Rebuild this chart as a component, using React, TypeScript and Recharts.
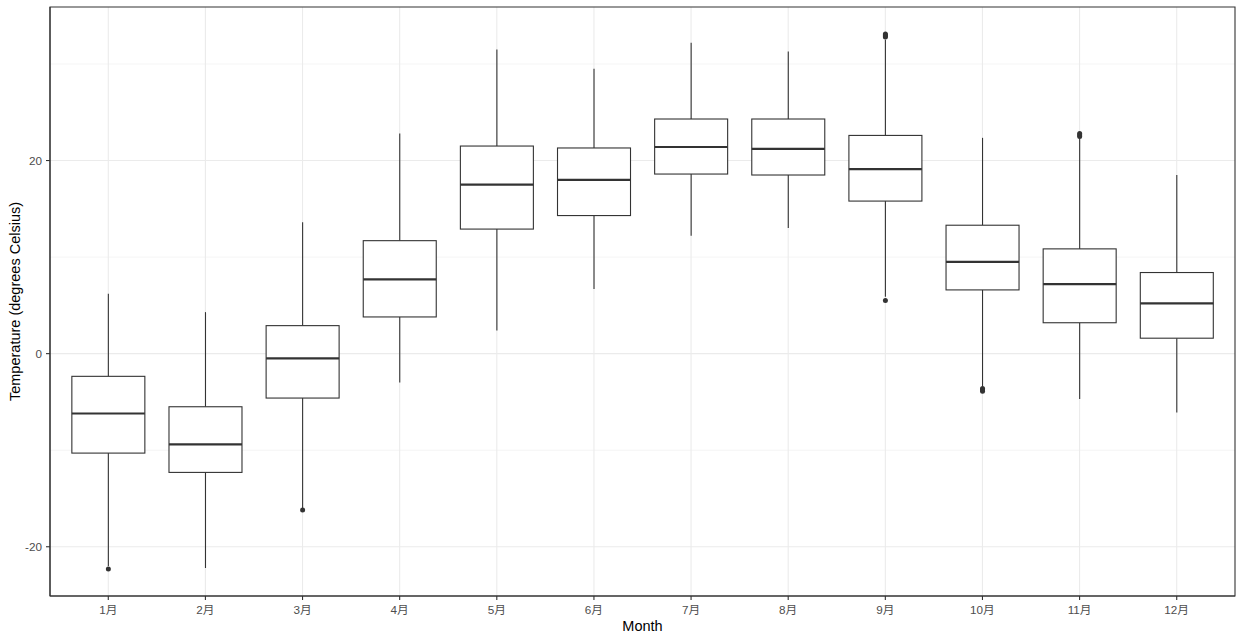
import { ComposedChart, Bar, XAxis, YAxis, CartesianGrid, ReferenceArea } from "recharts";

const months = ["1月", "2月", "3月", "4月", "5月", "6月", "7月", "8月", "9月", "10月", "11月", "12月"];
const whiskerLow = [-22.0, -22.2, -16.0, -3.0, 2.4, 6.7, 12.2, 13.0, 5.9, -3.4, -4.7, -6.1];
const q1 = [-10.3, -12.3, -4.6, 3.8, 12.9, 14.3, 18.6, 18.5, 15.8, 6.6, 3.2, 1.6];
const median = [-6.2, -9.4, -0.5, 7.7, 17.5, 18.0, 21.4, 21.2, 19.1, 9.5, 7.2, 5.2];
const q3 = [-2.35, -5.5, 2.9, 11.7, 21.5, 21.3, 24.3, 24.3, 22.6, 13.3, 10.85, 8.4];
const whiskerHigh = [6.2, 4.3, 13.6, 22.8, 31.5, 29.5, 32.2, 31.3, 32.5, 22.35, 22.3, 18.5];
const outliers: number[][] = [
  [-22.3], [], [-16.2], [], [], [], [], [], [32.8, 32.9, 33.0, 33.1, 5.5], [-3.6, -3.75, -3.9], [22.5, 22.65, 22.8], [],
];

const yMajor = [-20, 0, 20];
const yMinor = [-10, 10, 30];
const yDomain: [number, number] = [-25.1, 35.9];
// discrete positions 1..12, expanded by 0.6 on each side like ggplot
const xTicks = months.map((_, i) => i + 1);
const xDomain: [number, number] = [0.4, months.length + 0.6];

const data = months.map((m, i) => ({
  pos: i + 1,
  month: m,
  low: whiskerLow[i],
  q1: q1[i],
  median: median[i],
  q3: q3[i],
  high: whiskerHigh[i],
  outliers: outliers[i],
}));

const INK = "#333333";
const FONT = "'Liberation Sans', Arial, 'Noto Sans CJK SC', sans-serif";

function BoxShape(props: any) {
  const { x, y, width, height, payload } = props;
  const top = Math.min(y, y + height);
  const h = Math.abs(height);
  const per = h / (payload.high - payload.low);
  const py = (v: number) => top + (payload.high - v) * per;
  const cx = x + width / 2;
  return (
    <g>
      <line x1={cx} x2={cx} y1={py(payload.high)} y2={py(payload.q3)} stroke={INK} strokeWidth={1.1} />
      <line x1={cx} x2={cx} y1={py(payload.q1)} y2={py(payload.low)} stroke={INK} strokeWidth={1.1} />
      <rect
        x={x}
        y={py(payload.q3)}
        width={width}
        height={py(payload.q1) - py(payload.q3)}
        fill="#ffffff"
        stroke={INK}
        strokeWidth={1.1}
      />
      <line x1={x} x2={x + width} y1={py(payload.median)} y2={py(payload.median)} stroke={INK} strokeWidth={2.2} />
      {payload.outliers.map((v: number, k: number) => (
        <circle key={k} cx={cx} cy={py(v)} r={2.5} fill={INK} />
      ))}
    </g>
  );
}

export default function App() {
  return (
    <div style={{ position: "absolute", left: 0, top: 0, width: 1242, height: 641, background: "#fff", fontFamily: FONT }}>
      <ComposedChart
        width={1242}
        height={641}
        data={data}
        margin={{ top: 7, right: 7, bottom: 15, left: 0 }}
        barCategoryGap="12.5%"
      >
        <CartesianGrid stroke="#EBEBEB" strokeWidth={0.55} horizontalValues={yMinor} vertical={false} />
        <CartesianGrid stroke="#EBEBEB" strokeWidth={1.1} horizontalValues={yMajor} verticalValues={xTicks} />
        <XAxis
          dataKey="pos"
          type="number"
          domain={xDomain}
          allowDataOverflow
          ticks={xTicks}
          tickFormatter={(v: number) => months[v - 1]}
          height={30}
          tickSize={4}
          tickMargin={6}
          axisLine={{ stroke: INK, strokeWidth: 1.1 }}
          tickLine={{ stroke: INK, strokeWidth: 1.1 }}
          tick={{ fill: "#4D4D4D", fontSize: 11.7, fontFamily: FONT }}
          interval={0}
          label={{ value: "Month", position: "insideBottom", offset: -5, fill: "#000", fontSize: 14.5, fontFamily: FONT }}
        />
        <YAxis
          type="number"
          domain={yDomain}
          allowDataOverflow
          ticks={yMajor}
          width={50}
          tickSize={4}
          tickMargin={4}
          axisLine={{ stroke: INK, strokeWidth: 1.1 }}
          tickLine={{ stroke: INK, strokeWidth: 1.1 }}
          tick={{ fill: "#4D4D4D", fontSize: 11.7, fontFamily: FONT }}
          label={{
            value: "Temperature (degrees Celsius)",
            angle: -90,
            position: "insideLeft",
            offset: 15,
            style: { textAnchor: "middle" },
            fill: "#000",
            fontSize: 14.5,
            fontFamily: FONT,
          }}
        />
        <Bar
          dataKey={(d: any) => [d.low, d.high]}
          shape={<BoxShape />}
          isAnimationActive={false}
        />
        <ReferenceArea
          x1={xDomain[0]}
          x2={xDomain[1]}
          y1={yDomain[0]}
          y2={yDomain[1]}
          fill="none"
          fillOpacity={0}
          stroke={INK}
          strokeWidth={1.1}
        />
      </ComposedChart>
    </div>
  );
}
